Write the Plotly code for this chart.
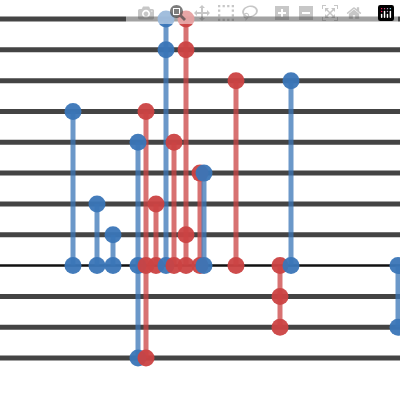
import plotly.graph_objects as go

levels = list(range(12))
base_level = 8
# connectors: x position, list of levels with dots, colour
conn_x = [73, 97, 113, 138, 146, 156, 166, 174, 186, 200, 204, 236, 280, 291, 398]
conn_levels = [[3, 8], [6, 8], [7, 8], [4, 8, 11], [3, 8, 11], [6, 8], [0, 1, 8], [4, 8],
               [0, 1, 7, 8], [5, 8], [5, 8], [2, 8], [8, 9, 10], [2, 8], [8, 10]]
conn_color = ["b", "b", "b", "b", "r", "r", "b", "r", "r", "r", "b", "r", "r", "b", "b"]
COL = {"b": "#3a76b8", "r": "#cc4343"}

fig = go.Figure()
for lv in levels:
    fig.add_trace(go.Scatter(x=[0, 400], y=[lv, lv], mode="lines",
                             line=dict(color="#111" if lv == base_level else "#444",
                                       width=2.5 if lv == base_level else 5),
                             showlegend=False, hoverinfo="skip"))
for x, lvls, c in zip(conn_x, conn_levels, conn_color):
    fig.add_trace(go.Scatter(x=[x]*2, y=[min(lvls), max(lvls)], mode="lines",
                             line=dict(color=COL[c], width=5), opacity=0.75,
                             showlegend=False))
for x, lvls, c in zip(conn_x, conn_levels, conn_color):
    fig.add_trace(go.Scatter(x=[x]*len(lvls), y=lvls, mode="markers",
                             marker=dict(color=COL[c], size=17), opacity=0.95,
                             cliponaxis=False, showlegend=False))
fig.update_layout(width=400, height=400, margin=dict(l=0, r=0, t=0, b=0),
                  plot_bgcolor="white", paper_bgcolor="white",
                  xaxis=dict(range=[0, 400], visible=False),
                  yaxis=dict(range=[12.36, -0.616], visible=False))
fig.write_html("out.html",
               post_script="document.body.style.margin='0';document.body.style.overflow='hidden';")
